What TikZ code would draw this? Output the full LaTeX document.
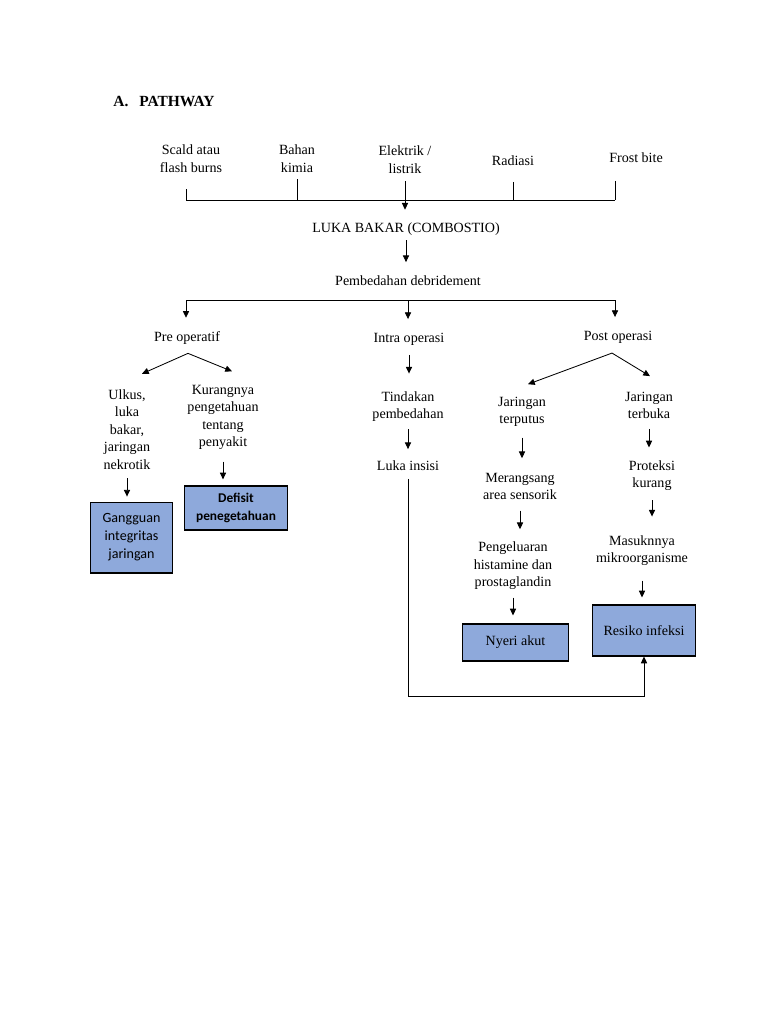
\documentclass[tikz,border=0pt]{standalone}
\usepackage{fontspec}
\setmainfont{Liberation Serif}
\newfontfamily\calibri{Carlito}
\usetikzlibrary{arrows.meta}
\definecolor{boxblue}{HTML}{8EA9DB}
\tikzset{
  txt/.style={align=center, inner sep=0pt, font=\fontsize{10}{12.4}\selectfont},
  box/.style={draw=black, line width=0.9pt, fill=boxblue, align=center, inner sep=0pt},
  arr/.style={-{Triangle[length=4.8pt,width=4.4pt]}},
  arrgap/.style 2 args={shorten <=#1pt, shorten >=#2pt}
}
\begin{document}
\begin{tikzpicture}[x=0.025cm, y=-0.025cm, line width=0.6pt]
\useasboundingbox[fill=white] (0,0) rectangle (768,1024);

\node [anchor=west, inner sep=0pt, font=\fontsize{11}{13}\selectfont\bfseries] (title) at (113,102) {A.\hspace{0.7em}PATHWAY};

% causes
\node [txt] (scald) at (191,158.5) {Scald atau\\flash burns};
\node [txt] (bahan) at (297,158.5) {Bahan\\kimia};
\node [txt] (elektrik) at (405,159.5) {Elektrik /\\listrik};
\node [txt] (radiasi) at (513,161) {Radiasi};
\node [txt] (frost) at (636,158) {Frost bite};

\coordinate (bus1) at (186,200);
\coordinate (bus5) at (615,200);
\draw (bus1) -- (bus5);
\draw [shorten <=11.7pt] (scald.south -| bus1) -- (bus1);
\draw [shorten <=4.6pt] (bahan.south) -- (bahan.south |- bus1);
\draw [shorten <=11pt] (radiasi.south) -- (radiasi.south |- bus1);
\draw [shorten <=12.4pt] (frost.south -| bus5) -- (bus5);

\node [txt] (luka) at (406,229) {LUKA BAKAR (COMBOSTIO)};
\node [txt] (pembedahan) at (408,281) {Pembedahan debridement};

\draw [arr, arrgap={5.3}{8.9}] (elektrik.south) -- (elektrik.south |- luka.north);
\draw [arr, arrgap={3.2}{9.6}] (luka.south) -- (luka.south |- pembedahan.north);

% three phases
\node [txt] (pre) at (187,338) {Pre operatif};
\node [txt] (intra) at (409,339) {Intra operasi};
\node [txt] (post) at (618,337) {Post operasi};

\coordinate (split1) at (186,300);
\coordinate (split2) at (408,300);
\coordinate (split3) at (615,300);
\draw (split1) -- (split3);
\draw [arr, shorten >=9.5pt] (split1) -- (split1 |- pre.north);
\draw [arr, shorten >=9.5pt] (split2) -- (split2 |- intra.north);
\draw [arr, shorten >=9.5pt] (split3) -- (split3 |- post.north);

% pre operatif
\node [txt] (ulkus) at (127,429.5) {Ulkus,\\luka\\bakar,\\jaringan\\nekrotik};
\node [txt] (kurang) at (223,417.5) {Kurangnya\\pengetahuan\\tentang\\penyakit};
\node [box, minimum width=58.8pt, minimum height=50.3pt, font=\calibri\fontsize{10}{12.8}\selectfont] (gangguan) at (131.5,537.5) {Gangguan\\integritas\\jaringan};
\node [box, minimum width=73.7pt, minimum height=31.2pt, font=\calibri\bfseries\fontsize{9.5}{13}\selectfont] (defisit) at (236,508) {Defisit\\penegetahuan};

\coordinate (preFork) at ([shift={(1,8.5)}]pre.south);
\draw [arr] (preFork) -- ([shift={(15,-15.5)}]ulkus.north);
\draw [arr] (preFork) -- ([shift={(9,-13.5)}]kurang.north);
\draw [arr, arrgap={6}{3.5}] (ulkus.south) -- (ulkus.south |- gangguan.north);
\draw [arr, arrgap={8.2}{4.3}] (kurang.south) -- (kurang.south |- defisit.north);

% intra operasi
\node [txt] (tindakan) at (408,406.5) {Tindakan\\pembedahan};
\node [txt] (insisi) at (408,466) {Luka insisi};
\draw [arr, arrgap={6.7}{12.4}] (intra.south) -- (intra.south |- tindakan.north);
\draw [arr, arrgap={5.3}{8.2}] (tindakan.south) -- (tindakan.south |- insisi.north);

% post operasi
\node [txt] (terputus) at (522,412) {Jaringan\\terputus};
\node [txt] (merangsang) at (520,486.5) {Merangsang\\area sensorik};
\node [txt] (pengeluaran) at (513,566) {Pengeluaran\\histamine dan\\prostaglandin};
\node [box, minimum width=75.8pt, minimum height=26.2pt, font=\fontsize{10}{12}\selectfont] (nyeri) at (515.5,642.5) {Nyeri akut};

\node [txt] (terbuka) at (649,405.5) {Jaringan\\terbuka};
\node [txt] (proteksi) at (652,475.5) {Proteksi\\kurang};
\node [txt] (masuk) at (642,550.5) {Masuknnya\\mikroorganisme};
\node [box, minimum width=73.7pt, minimum height=36.1pt, font=\fontsize{10}{12}\selectfont] (resiko) at (644,630.5) {Resiko infeksi};

\coordinate (postFork) at ([shift={(-6,9.5)}]post.south);
\draw [arr] (postFork) -- ([shift={(6,-12.5)}]terputus.north);
\draw [arr] (postFork) -- ([shift={(1,-15.5)}]terbuka.north);

\draw [arr, arrgap={7.4}{10.3}] (terputus.south) -- (terputus.south |- merangsang.north);
\draw [arr, arrgap={7.4}{8.9}] (merangsang.south) -- (merangsang.south |- pengeluaran.north);
\draw [arr, arrgap={5.3}{5.7}] (pengeluaran.south) -- (pengeluaran.south |- nyeri.north);

\draw [arr, arrgap={6.7}{8.9}] (terbuka.south) -- (terbuka.south |- proteksi.north);
\draw [arr, arrgap={6.7}{13.1}] (proteksi.south) -- (proteksi.south |- masuk.north);
\draw [arr, arrgap={10.3}{5}] (masuk.south) -- (masuk.south |- resiko.north);

% luka insisi to resiko infeksi
\coordinate (loopY) at (0,696);
\draw [arr, shorten <=5.3pt] (insisi.south) -- (insisi.south |- loopY) -| (resiko.south);
\end{tikzpicture}
\end{document}
